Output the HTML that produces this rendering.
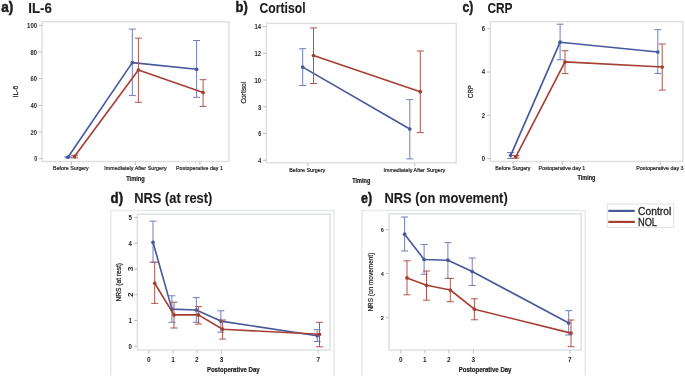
<!DOCTYPE html>
<html><head><meta charset="utf-8"><style>
html,body{margin:0;padding:0;background:#fff;width:685px;height:377px;overflow:hidden}
svg{display:block;font-family:"Liberation Sans", sans-serif;filter:blur(0.35px)}
</style></head><body>
<svg width="685" height="377" viewBox="0 0 685 377">
<text x="1.2" y="12.3" font-size="14.5" font-weight="bold" fill="#1e1e1e" stroke="#1e1e1e" stroke-width="0.5" textLength="12.10" lengthAdjust="spacingAndGlyphs">a)</text>
<text x="28.3" y="12.7" font-size="14.2" font-weight="bold" fill="#1e1e1e" stroke="#1e1e1e" stroke-width="0.12" textLength="23.50" lengthAdjust="spacingAndGlyphs">IL-6</text>
<rect x="42.0" y="21.8" width="186.9" height="139.7" fill="none" stroke="#dcdee0" stroke-width="1.4"/>
<line x1="38.5" y1="158.7" x2="42.0" y2="158.7" stroke="#c0c0c0" stroke-width="1"/>
<line x1="38.5" y1="132.02" x2="42.0" y2="132.02" stroke="#c0c0c0" stroke-width="1"/>
<line x1="38.5" y1="105.34" x2="42.0" y2="105.34" stroke="#c0c0c0" stroke-width="1"/>
<line x1="38.5" y1="78.66" x2="42.0" y2="78.66" stroke="#c0c0c0" stroke-width="1"/>
<line x1="38.5" y1="51.98" x2="42.0" y2="51.98" stroke="#c0c0c0" stroke-width="1"/>
<line x1="38.5" y1="25.3" x2="42.0" y2="25.3" stroke="#c0c0c0" stroke-width="1"/>
<text x="34.15" y="161.45" font-size="7.6" font-weight="bold" fill="#1e1e1e" textLength="2.95" lengthAdjust="spacingAndGlyphs">0</text>
<text x="30.599999999999998" y="134.77" font-size="7.6" font-weight="bold" fill="#1e1e1e" textLength="6.50" lengthAdjust="spacingAndGlyphs">20</text>
<text x="30.599999999999998" y="108.09" font-size="7.6" font-weight="bold" fill="#1e1e1e" textLength="6.50" lengthAdjust="spacingAndGlyphs">40</text>
<text x="30.599999999999998" y="81.41" font-size="7.6" font-weight="bold" fill="#1e1e1e" textLength="6.50" lengthAdjust="spacingAndGlyphs">60</text>
<text x="30.599999999999998" y="54.73" font-size="7.6" font-weight="bold" fill="#1e1e1e" textLength="6.50" lengthAdjust="spacingAndGlyphs">80</text>
<text x="27.05" y="28.05" font-size="7.6" font-weight="bold" fill="#1e1e1e" textLength="10.05" lengthAdjust="spacingAndGlyphs">100</text>
<line x1="71.5" y1="161.5" x2="71.5" y2="165.0" stroke="#c0c0c0" stroke-width="1"/>
<line x1="135.4" y1="161.5" x2="135.4" y2="165.0" stroke="#c0c0c0" stroke-width="1"/>
<line x1="199.9" y1="161.5" x2="199.9" y2="165.0" stroke="#c0c0c0" stroke-width="1"/>
<text x="53.099999999999994" y="170.3" font-size="5.3" font-weight="normal" fill="#1e1e1e" stroke="#1e1e1e" stroke-width="0.2" textLength="35.60" lengthAdjust="spacing">Before Surgery</text>
<text x="104.2" y="170.2" font-size="5.3" font-weight="normal" fill="#1e1e1e" stroke="#1e1e1e" stroke-width="0.2" textLength="62.40" lengthAdjust="spacing">Immediately After Surgery</text>
<text x="176.0" y="170.4" font-size="5.3" font-weight="normal" fill="#1e1e1e" stroke="#1e1e1e" stroke-width="0.2" textLength="46.90" lengthAdjust="spacing">Postoperative day 1</text>
<text x="126.2" y="180.7" font-size="6.8" font-weight="bold" fill="#1e1e1e" stroke="#1e1e1e" stroke-width="0.22" textLength="18.50" lengthAdjust="spacingAndGlyphs">Timing</text>
<text x="15.8" y="91.6" font-size="7.4" font-weight="normal" fill="#1e1e1e" stroke="#1e1e1e" stroke-width="0.25" text-anchor="middle" dominant-baseline="central" textLength="11.80" lengthAdjust="spacingAndGlyphs" transform="rotate(-90 15.8 91.6)">IL-6</text>
<line x1="68.0" y1="156.7" x2="68.0" y2="157.7" stroke="#6f7fba" stroke-width="1"/>
<line x1="64.5" y1="156.7" x2="71.5" y2="156.7" stroke="#6f7fba" stroke-width="1"/>
<line x1="64.5" y1="157.7" x2="71.5" y2="157.7" stroke="#6f7fba" stroke-width="1"/>
<line x1="132.3" y1="29.1" x2="132.3" y2="95.6" stroke="#6f7fba" stroke-width="1"/>
<line x1="128.8" y1="29.1" x2="135.8" y2="29.1" stroke="#6f7fba" stroke-width="1"/>
<line x1="128.8" y1="95.6" x2="135.8" y2="95.6" stroke="#6f7fba" stroke-width="1"/>
<line x1="196.6" y1="40.5" x2="196.6" y2="97.3" stroke="#6f7fba" stroke-width="1"/>
<line x1="193.1" y1="40.5" x2="200.1" y2="40.5" stroke="#6f7fba" stroke-width="1"/>
<line x1="193.1" y1="97.3" x2="200.1" y2="97.3" stroke="#6f7fba" stroke-width="1"/>
<path d="M68.0,157.2 L132.3,62.6 L196.6,69.3" fill="none" stroke="#47589c" stroke-width="1.65" stroke-linejoin="round"/>
<circle cx="68.0" cy="157.2" r="1.85" fill="#47589c"/>
<circle cx="132.3" cy="62.6" r="1.85" fill="#47589c"/>
<circle cx="196.6" cy="69.3" r="1.85" fill="#47589c"/>
<line x1="74.5" y1="155.3" x2="74.5" y2="157.9" stroke="#b0544a" stroke-width="1"/>
<line x1="71.0" y1="155.3" x2="78.0" y2="155.3" stroke="#b0544a" stroke-width="1"/>
<line x1="71.0" y1="157.9" x2="78.0" y2="157.9" stroke="#b0544a" stroke-width="1"/>
<line x1="138.4" y1="38.2" x2="138.4" y2="102.3" stroke="#b0544a" stroke-width="1"/>
<line x1="134.9" y1="38.2" x2="141.9" y2="38.2" stroke="#b0544a" stroke-width="1"/>
<line x1="134.9" y1="102.3" x2="141.9" y2="102.3" stroke="#b0544a" stroke-width="1"/>
<line x1="203.1" y1="79.7" x2="203.1" y2="106.4" stroke="#b0544a" stroke-width="1"/>
<line x1="199.6" y1="79.7" x2="206.6" y2="79.7" stroke="#b0544a" stroke-width="1"/>
<line x1="199.6" y1="106.4" x2="206.6" y2="106.4" stroke="#b0544a" stroke-width="1"/>
<path d="M74.5,156.6 L138.4,70 L203.1,92.5" fill="none" stroke="#a63f33" stroke-width="1.65" stroke-linejoin="round"/>
<circle cx="74.5" cy="156.6" r="1.85" fill="#a63f33"/>
<circle cx="138.4" cy="70" r="1.85" fill="#a63f33"/>
<circle cx="203.1" cy="92.5" r="1.85" fill="#a63f33"/>
<text x="235.60000000000002" y="11.7" font-size="14.5" font-weight="bold" fill="#1e1e1e" stroke="#1e1e1e" stroke-width="0.5" textLength="12.20" lengthAdjust="spacingAndGlyphs">b)</text>
<text x="259.5" y="12.6" font-size="14.2" font-weight="bold" fill="#1e1e1e" stroke="#1e1e1e" stroke-width="0.12" textLength="46.10" lengthAdjust="spacingAndGlyphs">Cortisol</text>
<rect x="266.4" y="23.4" width="189.8" height="139.4" fill="none" stroke="#dcdee0" stroke-width="1.4"/>
<line x1="262.9" y1="160.3" x2="266.4" y2="160.3" stroke="#c0c0c0" stroke-width="1"/>
<line x1="262.9" y1="133.56" x2="266.4" y2="133.56" stroke="#c0c0c0" stroke-width="1"/>
<line x1="262.9" y1="106.82" x2="266.4" y2="106.82" stroke="#c0c0c0" stroke-width="1"/>
<line x1="262.9" y1="80.08" x2="266.4" y2="80.08" stroke="#c0c0c0" stroke-width="1"/>
<line x1="262.9" y1="53.34" x2="266.4" y2="53.34" stroke="#c0c0c0" stroke-width="1"/>
<line x1="262.9" y1="26.6" x2="266.4" y2="26.6" stroke="#c0c0c0" stroke-width="1"/>
<text x="258.15" y="163.0" font-size="6.4" font-weight="bold" fill="#1e1e1e" textLength="2.95" lengthAdjust="spacingAndGlyphs">4</text>
<text x="258.15" y="136.26" font-size="6.4" font-weight="bold" fill="#1e1e1e" textLength="2.95" lengthAdjust="spacingAndGlyphs">6</text>
<text x="258.15" y="109.52" font-size="6.4" font-weight="bold" fill="#1e1e1e" textLength="2.95" lengthAdjust="spacingAndGlyphs">8</text>
<text x="254.6" y="82.78" font-size="6.4" font-weight="bold" fill="#1e1e1e" textLength="6.50" lengthAdjust="spacingAndGlyphs">10</text>
<text x="254.6" y="56.040000000000006" font-size="6.4" font-weight="bold" fill="#1e1e1e" textLength="6.50" lengthAdjust="spacingAndGlyphs">12</text>
<text x="254.6" y="29.3" font-size="6.4" font-weight="bold" fill="#1e1e1e" textLength="6.50" lengthAdjust="spacingAndGlyphs">14</text>
<line x1="307.8" y1="162.8" x2="307.8" y2="166.3" stroke="#c0c0c0" stroke-width="1"/>
<line x1="414.7" y1="162.8" x2="414.7" y2="166.3" stroke="#c0c0c0" stroke-width="1"/>
<text x="289.2" y="172" font-size="5.3" font-weight="normal" fill="#1e1e1e" stroke="#1e1e1e" stroke-width="0.2" textLength="36.00" lengthAdjust="spacing">Before Surgery</text>
<text x="383.5" y="172" font-size="5.3" font-weight="normal" fill="#1e1e1e" stroke="#1e1e1e" stroke-width="0.2" textLength="61.60" lengthAdjust="spacing">Immediately After Surgery</text>
<text x="352.3" y="182.6" font-size="6.8" font-weight="bold" fill="#1e1e1e" stroke="#1e1e1e" stroke-width="0.22" textLength="18.00" lengthAdjust="spacingAndGlyphs">Timing</text>
<text x="243.4" y="92.75" font-size="6.8" font-weight="normal" fill="#1e1e1e" stroke="#1e1e1e" stroke-width="0.2" text-anchor="middle" dominant-baseline="central" textLength="21.70" lengthAdjust="spacingAndGlyphs" transform="rotate(-90 243.4 92.75)">Cortisol</text>
<line x1="302.7" y1="48.7" x2="302.7" y2="85.5" stroke="#6f7fba" stroke-width="1"/>
<line x1="299.2" y1="48.7" x2="306.2" y2="48.7" stroke="#6f7fba" stroke-width="1"/>
<line x1="299.2" y1="85.5" x2="306.2" y2="85.5" stroke="#6f7fba" stroke-width="1"/>
<line x1="409.8" y1="99.6" x2="409.8" y2="158.9" stroke="#6f7fba" stroke-width="1"/>
<line x1="406.3" y1="99.6" x2="413.3" y2="99.6" stroke="#6f7fba" stroke-width="1"/>
<line x1="406.3" y1="158.9" x2="413.3" y2="158.9" stroke="#6f7fba" stroke-width="1"/>
<path d="M302.7,67.1 L409.8,129" fill="none" stroke="#47589c" stroke-width="1.65" stroke-linejoin="round"/>
<circle cx="302.7" cy="67.1" r="1.85" fill="#47589c"/>
<circle cx="409.8" cy="129" r="1.85" fill="#47589c"/>
<line x1="313.5" y1="27.9" x2="313.5" y2="83.5" stroke="#b0544a" stroke-width="1"/>
<line x1="310.0" y1="27.9" x2="317.0" y2="27.9" stroke="#b0544a" stroke-width="1"/>
<line x1="310.0" y1="83.5" x2="317.0" y2="83.5" stroke="#b0544a" stroke-width="1"/>
<line x1="420.3" y1="51" x2="420.3" y2="132.6" stroke="#b0544a" stroke-width="1"/>
<line x1="416.8" y1="51" x2="423.8" y2="51" stroke="#b0544a" stroke-width="1"/>
<line x1="416.8" y1="132.6" x2="423.8" y2="132.6" stroke="#b0544a" stroke-width="1"/>
<path d="M313.5,55.5 L420.3,91.7" fill="none" stroke="#a63f33" stroke-width="1.65" stroke-linejoin="round"/>
<circle cx="313.5" cy="55.5" r="1.85" fill="#a63f33"/>
<circle cx="420.3" cy="91.7" r="1.85" fill="#a63f33"/>
<text x="462.5" y="11.7" font-size="14.5" font-weight="bold" fill="#1e1e1e" stroke="#1e1e1e" stroke-width="0.5" textLength="10.70" lengthAdjust="spacingAndGlyphs">c)</text>
<text x="487.40000000000003" y="12.6" font-size="14.2" font-weight="bold" fill="#1e1e1e" stroke="#1e1e1e" stroke-width="0.12" textLength="25.10" lengthAdjust="spacingAndGlyphs">CRP</text>
<rect x="490.2" y="21.6" width="192.7" height="139.9" fill="none" stroke="#dcdee0" stroke-width="1.4"/>
<line x1="486.7" y1="158.6" x2="490.2" y2="158.6" stroke="#c0c0c0" stroke-width="1"/>
<line x1="486.7" y1="115.32" x2="490.2" y2="115.32" stroke="#c0c0c0" stroke-width="1"/>
<line x1="486.7" y1="72.04" x2="490.2" y2="72.04" stroke="#c0c0c0" stroke-width="1"/>
<line x1="486.7" y1="28.76" x2="490.2" y2="28.76" stroke="#c0c0c0" stroke-width="1"/>
<text x="481.8" y="160.9" font-size="6.4" font-weight="bold" fill="#1e1e1e" textLength="3.30" lengthAdjust="spacingAndGlyphs">0</text>
<text x="481.8" y="117.61999999999999" font-size="6.4" font-weight="bold" fill="#1e1e1e" textLength="3.30" lengthAdjust="spacingAndGlyphs">2</text>
<text x="481.8" y="74.34" font-size="6.4" font-weight="bold" fill="#1e1e1e" textLength="3.30" lengthAdjust="spacingAndGlyphs">4</text>
<text x="481.8" y="31.060000000000002" font-size="6.4" font-weight="bold" fill="#1e1e1e" textLength="3.30" lengthAdjust="spacingAndGlyphs">6</text>
<line x1="513.2" y1="161.5" x2="513.2" y2="165.0" stroke="#c0c0c0" stroke-width="1"/>
<line x1="562.3" y1="161.5" x2="562.3" y2="165.0" stroke="#c0c0c0" stroke-width="1"/>
<line x1="660.1" y1="161.5" x2="660.1" y2="165.0" stroke="#c0c0c0" stroke-width="1"/>
<text x="495.3" y="170.4" font-size="5.3" font-weight="normal" fill="#1e1e1e" stroke="#1e1e1e" stroke-width="0.2" textLength="35.20" lengthAdjust="spacing">Before Surgery</text>
<text x="538.4" y="170.4" font-size="5.3" font-weight="normal" fill="#1e1e1e" stroke="#1e1e1e" stroke-width="0.2" textLength="46.90" lengthAdjust="spacing">Postoperative day 1</text>
<text x="636.3" y="170.4" font-size="5.3" font-weight="normal" fill="#1e1e1e" stroke="#1e1e1e" stroke-width="0.2" textLength="47.20" lengthAdjust="spacing">Postoperative day 3</text>
<text x="577.5999999999999" y="180.3" font-size="6.8" font-weight="bold" fill="#1e1e1e" stroke="#1e1e1e" stroke-width="0.22" textLength="17.80" lengthAdjust="spacingAndGlyphs">Timing</text>
<text x="471" y="91.55000000000001" font-size="6.8" font-weight="normal" fill="#1e1e1e" stroke="#1e1e1e" stroke-width="0.25" text-anchor="middle" dominant-baseline="central" textLength="12.70" lengthAdjust="spacingAndGlyphs" transform="rotate(-90 471 91.55000000000001)">CRP</text>
<line x1="510.7" y1="152.5" x2="510.7" y2="158.5" stroke="#6f7fba" stroke-width="1"/>
<line x1="507.2" y1="152.5" x2="514.2" y2="152.5" stroke="#6f7fba" stroke-width="1"/>
<line x1="507.2" y1="158.5" x2="514.2" y2="158.5" stroke="#6f7fba" stroke-width="1"/>
<line x1="560.1" y1="24.2" x2="560.1" y2="59.8" stroke="#6f7fba" stroke-width="1"/>
<line x1="556.6" y1="24.2" x2="563.6" y2="24.2" stroke="#6f7fba" stroke-width="1"/>
<line x1="556.6" y1="59.8" x2="563.6" y2="59.8" stroke="#6f7fba" stroke-width="1"/>
<line x1="657.8" y1="29.7" x2="657.8" y2="73.4" stroke="#6f7fba" stroke-width="1"/>
<line x1="654.3" y1="29.7" x2="661.3" y2="29.7" stroke="#6f7fba" stroke-width="1"/>
<line x1="654.3" y1="73.4" x2="661.3" y2="73.4" stroke="#6f7fba" stroke-width="1"/>
<path d="M510.7,155.3 L560.1,42.2 L657.8,52" fill="none" stroke="#47589c" stroke-width="1.65" stroke-linejoin="round"/>
<circle cx="510.7" cy="155.3" r="1.85" fill="#47589c"/>
<circle cx="560.1" cy="42.2" r="1.85" fill="#47589c"/>
<circle cx="657.8" cy="52" r="1.85" fill="#47589c"/>
<line x1="515.8" y1="155.5" x2="515.8" y2="158.1" stroke="#b0544a" stroke-width="1"/>
<line x1="512.3" y1="155.5" x2="519.3" y2="155.5" stroke="#b0544a" stroke-width="1"/>
<line x1="512.3" y1="158.1" x2="519.3" y2="158.1" stroke="#b0544a" stroke-width="1"/>
<line x1="565" y1="50.7" x2="565" y2="73.6" stroke="#b0544a" stroke-width="1"/>
<line x1="561.5" y1="50.7" x2="568.5" y2="50.7" stroke="#b0544a" stroke-width="1"/>
<line x1="561.5" y1="73.6" x2="568.5" y2="73.6" stroke="#b0544a" stroke-width="1"/>
<line x1="662.2" y1="44" x2="662.2" y2="90.1" stroke="#b0544a" stroke-width="1"/>
<line x1="658.7" y1="44" x2="665.7" y2="44" stroke="#b0544a" stroke-width="1"/>
<line x1="658.7" y1="90.1" x2="665.7" y2="90.1" stroke="#b0544a" stroke-width="1"/>
<path d="M515.8,156.8 L565,61.9 L662.2,67" fill="none" stroke="#a63f33" stroke-width="1.65" stroke-linejoin="round"/>
<circle cx="515.8" cy="156.8" r="1.85" fill="#a63f33"/>
<circle cx="565" cy="61.9" r="1.85" fill="#a63f33"/>
<circle cx="662.2" cy="67" r="1.85" fill="#a63f33"/>
<text x="110.6" y="203.4" font-size="14.5" font-weight="bold" fill="#1e1e1e" stroke="#1e1e1e" stroke-width="0.5" textLength="12.50" lengthAdjust="spacingAndGlyphs">d)</text>
<text x="134.20000000000002" y="203.4" font-size="14.2" font-weight="bold" fill="#1e1e1e" stroke="#1e1e1e" stroke-width="0.12" textLength="78.20" lengthAdjust="spacingAndGlyphs">NRS (at rest)</text>
<path d="M110.7,375.5 V210.5 H333.9 V375.5" fill="none" stroke="#e8e9ea" stroke-width="1.5"/>
<rect x="137.4" y="214.2" width="192.6" height="135.8" fill="none" stroke="#dcdee0" stroke-width="1.4"/>
<line x1="133.9" y1="346.2" x2="137.4" y2="346.2" stroke="#c0c0c0" stroke-width="1"/>
<line x1="133.9" y1="320.46" x2="137.4" y2="320.46" stroke="#c0c0c0" stroke-width="1"/>
<line x1="133.9" y1="294.72" x2="137.4" y2="294.72" stroke="#c0c0c0" stroke-width="1"/>
<line x1="133.9" y1="268.98" x2="137.4" y2="268.98" stroke="#c0c0c0" stroke-width="1"/>
<line x1="133.9" y1="243.24" x2="137.4" y2="243.24" stroke="#c0c0c0" stroke-width="1"/>
<line x1="133.9" y1="217.5" x2="137.4" y2="217.5" stroke="#c0c0c0" stroke-width="1"/>
<text x="128.60000000000002" y="348.55" font-size="6.4" font-weight="bold" fill="#1e1e1e" textLength="3.40" lengthAdjust="spacingAndGlyphs">0</text>
<text x="128.60000000000002" y="322.81" font-size="6.4" font-weight="bold" fill="#1e1e1e" textLength="3.40" lengthAdjust="spacingAndGlyphs">1</text>
<text x="130.4" y="294.72" font-size="6.4" font-weight="bold" fill="#1e1e1e" text-anchor="middle" dominant-baseline="central" textLength="4.60" lengthAdjust="spacingAndGlyphs" transform="rotate(-90 130.4 294.72)">2</text>
<text x="130.4" y="268.98" font-size="6.4" font-weight="bold" fill="#1e1e1e" text-anchor="middle" dominant-baseline="central" textLength="4.60" lengthAdjust="spacingAndGlyphs" transform="rotate(-90 130.4 268.98)">3</text>
<text x="128.60000000000002" y="245.59" font-size="6.4" font-weight="bold" fill="#1e1e1e" textLength="3.40" lengthAdjust="spacingAndGlyphs">4</text>
<text x="128.60000000000002" y="219.85" font-size="6.4" font-weight="bold" fill="#1e1e1e" textLength="3.40" lengthAdjust="spacingAndGlyphs">5</text>
<line x1="148.9" y1="350" x2="148.9" y2="353.5" stroke="#c0c0c0" stroke-width="1"/>
<line x1="173.1" y1="350" x2="173.1" y2="353.5" stroke="#c0c0c0" stroke-width="1"/>
<line x1="196.9" y1="350" x2="196.9" y2="353.5" stroke="#c0c0c0" stroke-width="1"/>
<line x1="221.6" y1="350" x2="221.6" y2="353.5" stroke="#c0c0c0" stroke-width="1"/>
<line x1="318.2" y1="350" x2="318.2" y2="353.5" stroke="#c0c0c0" stroke-width="1"/>
<text x="147.10000000000002" y="361.5" font-size="6.8" font-weight="bold" fill="#1e1e1e" textLength="3.60" lengthAdjust="spacingAndGlyphs">0</text>
<text x="171.3" y="361.5" font-size="6.8" font-weight="bold" fill="#1e1e1e" textLength="3.60" lengthAdjust="spacingAndGlyphs">1</text>
<text x="195.10000000000002" y="361.5" font-size="6.8" font-weight="bold" fill="#1e1e1e" textLength="3.60" lengthAdjust="spacingAndGlyphs">2</text>
<text x="219.8" y="361.5" font-size="6.8" font-weight="bold" fill="#1e1e1e" textLength="3.60" lengthAdjust="spacingAndGlyphs">3</text>
<text x="316.4" y="361.5" font-size="6.8" font-weight="bold" fill="#1e1e1e" textLength="3.60" lengthAdjust="spacingAndGlyphs">7</text>
<text x="206.9" y="372.2" font-size="6.8" font-weight="bold" fill="#1e1e1e" stroke="#1e1e1e" stroke-width="0.22" textLength="52.80" lengthAdjust="spacingAndGlyphs">Postoperative Day</text>
<text x="118.1" y="282.2" font-size="6.8" font-weight="normal" fill="#1e1e1e" stroke="#1e1e1e" stroke-width="0.25" text-anchor="middle" dominant-baseline="central" textLength="38.40" lengthAdjust="spacingAndGlyphs" transform="rotate(-90 118.1 282.2)">NRS (at rest)</text>
<line x1="153" y1="221.2" x2="153" y2="262.2" stroke="#6f7fba" stroke-width="1"/>
<line x1="149.5" y1="221.2" x2="156.5" y2="221.2" stroke="#6f7fba" stroke-width="1"/>
<line x1="149.5" y1="262.2" x2="156.5" y2="262.2" stroke="#6f7fba" stroke-width="1"/>
<line x1="171.9" y1="295.8" x2="171.9" y2="322.3" stroke="#6f7fba" stroke-width="1"/>
<line x1="168.4" y1="295.8" x2="175.4" y2="295.8" stroke="#6f7fba" stroke-width="1"/>
<line x1="168.4" y1="322.3" x2="175.4" y2="322.3" stroke="#6f7fba" stroke-width="1"/>
<line x1="196.3" y1="297.6" x2="196.3" y2="322.3" stroke="#6f7fba" stroke-width="1"/>
<line x1="192.8" y1="297.6" x2="199.8" y2="297.6" stroke="#6f7fba" stroke-width="1"/>
<line x1="192.8" y1="322.3" x2="199.8" y2="322.3" stroke="#6f7fba" stroke-width="1"/>
<line x1="220.8" y1="310.8" x2="220.8" y2="332.2" stroke="#6f7fba" stroke-width="1"/>
<line x1="217.3" y1="310.8" x2="224.3" y2="310.8" stroke="#6f7fba" stroke-width="1"/>
<line x1="217.3" y1="332.2" x2="224.3" y2="332.2" stroke="#6f7fba" stroke-width="1"/>
<line x1="317.2" y1="329.7" x2="317.2" y2="341.5" stroke="#6f7fba" stroke-width="1"/>
<line x1="313.7" y1="329.7" x2="320.7" y2="329.7" stroke="#6f7fba" stroke-width="1"/>
<line x1="313.7" y1="341.5" x2="320.7" y2="341.5" stroke="#6f7fba" stroke-width="1"/>
<path d="M153,242.3 L171.9,309.1 L196.3,310 L220.8,321.1 L317.2,335.7" fill="none" stroke="#47589c" stroke-width="1.65" stroke-linejoin="round"/>
<circle cx="153" cy="242.3" r="1.85" fill="#47589c"/>
<circle cx="171.9" cy="309.1" r="1.85" fill="#47589c"/>
<circle cx="196.3" cy="310" r="1.85" fill="#47589c"/>
<circle cx="220.8" cy="321.1" r="1.85" fill="#47589c"/>
<circle cx="317.2" cy="335.7" r="1.85" fill="#47589c"/>
<line x1="154.7" y1="262.2" x2="154.7" y2="303.4" stroke="#b0544a" stroke-width="1"/>
<line x1="151.2" y1="262.2" x2="158.2" y2="262.2" stroke="#b0544a" stroke-width="1"/>
<line x1="151.2" y1="303.4" x2="158.2" y2="303.4" stroke="#b0544a" stroke-width="1"/>
<line x1="174.0" y1="302.2" x2="174.0" y2="328" stroke="#b0544a" stroke-width="1"/>
<line x1="170.5" y1="302.2" x2="177.5" y2="302.2" stroke="#b0544a" stroke-width="1"/>
<line x1="170.5" y1="328" x2="177.5" y2="328" stroke="#b0544a" stroke-width="1"/>
<line x1="198.4" y1="306.6" x2="198.4" y2="324.1" stroke="#b0544a" stroke-width="1"/>
<line x1="194.9" y1="306.6" x2="201.9" y2="306.6" stroke="#b0544a" stroke-width="1"/>
<line x1="194.9" y1="324.1" x2="201.9" y2="324.1" stroke="#b0544a" stroke-width="1"/>
<line x1="222.6" y1="320" x2="222.6" y2="339.1" stroke="#b0544a" stroke-width="1"/>
<line x1="219.1" y1="320" x2="226.1" y2="320" stroke="#b0544a" stroke-width="1"/>
<line x1="219.1" y1="339.1" x2="226.1" y2="339.1" stroke="#b0544a" stroke-width="1"/>
<line x1="319.5" y1="322.3" x2="319.5" y2="346.8" stroke="#b0544a" stroke-width="1"/>
<line x1="316.0" y1="322.3" x2="323.0" y2="322.3" stroke="#b0544a" stroke-width="1"/>
<line x1="316.0" y1="346.8" x2="323.0" y2="346.8" stroke="#b0544a" stroke-width="1"/>
<path d="M154.7,283.2 L174.0,314.9 L198.4,314.9 L222.6,329.2 L319.5,334.3" fill="none" stroke="#a63f33" stroke-width="1.65" stroke-linejoin="round"/>
<circle cx="154.7" cy="283.2" r="1.85" fill="#a63f33"/>
<circle cx="174.0" cy="314.9" r="1.85" fill="#a63f33"/>
<circle cx="198.4" cy="314.9" r="1.85" fill="#a63f33"/>
<circle cx="222.6" cy="329.2" r="1.85" fill="#a63f33"/>
<circle cx="319.5" cy="334.3" r="1.85" fill="#a63f33"/>
<text x="361.1" y="203.4" font-size="14.5" font-weight="bold" fill="#1e1e1e" stroke="#1e1e1e" stroke-width="0.5" textLength="11.10" lengthAdjust="spacingAndGlyphs">e)</text>
<text x="384.5" y="203.4" font-size="14.2" font-weight="bold" fill="#1e1e1e" stroke="#1e1e1e" stroke-width="0.12" textLength="123.20" lengthAdjust="spacingAndGlyphs">NRS (on movement)</text>
<path d="M362,375.5 V210.5 H585.3 V375.5" fill="none" stroke="#e8e9ea" stroke-width="1.5"/>
<rect x="389.0" y="213.8" width="192.20000000000005" height="136.2" fill="none" stroke="#dcdee0" stroke-width="1.4"/>
<line x1="385.5" y1="317.3" x2="389.0" y2="317.3" stroke="#c0c0c0" stroke-width="1"/>
<line x1="385.5" y1="273.44" x2="389.0" y2="273.44" stroke="#c0c0c0" stroke-width="1"/>
<line x1="385.5" y1="229.58" x2="389.0" y2="229.58" stroke="#c0c0c0" stroke-width="1"/>
<text x="380.8" y="319.55" font-size="6.0" font-weight="bold" fill="#1e1e1e" textLength="3.10" lengthAdjust="spacingAndGlyphs">2</text>
<text x="380.8" y="275.69" font-size="6.0" font-weight="bold" fill="#1e1e1e" textLength="3.10" lengthAdjust="spacingAndGlyphs">4</text>
<text x="380.8" y="231.83" font-size="6.0" font-weight="bold" fill="#1e1e1e" textLength="3.10" lengthAdjust="spacingAndGlyphs">6</text>
<line x1="400.8" y1="350" x2="400.8" y2="353.5" stroke="#c0c0c0" stroke-width="1"/>
<line x1="424.9" y1="350" x2="424.9" y2="353.5" stroke="#c0c0c0" stroke-width="1"/>
<line x1="448.8" y1="350" x2="448.8" y2="353.5" stroke="#c0c0c0" stroke-width="1"/>
<line x1="473.3" y1="350" x2="473.3" y2="353.5" stroke="#c0c0c0" stroke-width="1"/>
<line x1="569.9" y1="350" x2="569.9" y2="353.5" stroke="#c0c0c0" stroke-width="1"/>
<text x="399.0" y="361.7" font-size="6.8" font-weight="bold" fill="#1e1e1e" textLength="3.60" lengthAdjust="spacingAndGlyphs">0</text>
<text x="423.09999999999997" y="361.7" font-size="6.8" font-weight="bold" fill="#1e1e1e" textLength="3.60" lengthAdjust="spacingAndGlyphs">1</text>
<text x="447.0" y="361.7" font-size="6.8" font-weight="bold" fill="#1e1e1e" textLength="3.60" lengthAdjust="spacingAndGlyphs">2</text>
<text x="471.5" y="361.7" font-size="6.8" font-weight="bold" fill="#1e1e1e" textLength="3.60" lengthAdjust="spacingAndGlyphs">3</text>
<text x="568.0999999999999" y="361.7" font-size="6.8" font-weight="bold" fill="#1e1e1e" textLength="3.60" lengthAdjust="spacingAndGlyphs">7</text>
<text x="458.7" y="372.2" font-size="6.8" font-weight="bold" fill="#1e1e1e" stroke="#1e1e1e" stroke-width="0.22" textLength="52.80" lengthAdjust="spacingAndGlyphs">Postoperative Day</text>
<text x="370.1" y="282.15" font-size="6.8" font-weight="normal" fill="#1e1e1e" stroke="#1e1e1e" stroke-width="0.2" text-anchor="middle" dominant-baseline="central" textLength="58.90" lengthAdjust="spacingAndGlyphs" transform="rotate(-90 370.1 282.15)">NRS (on movement)</text>
<line x1="404.6" y1="217" x2="404.6" y2="251" stroke="#6f7fba" stroke-width="1"/>
<line x1="401.1" y1="217" x2="408.1" y2="217" stroke="#6f7fba" stroke-width="1"/>
<line x1="401.1" y1="251" x2="408.1" y2="251" stroke="#6f7fba" stroke-width="1"/>
<line x1="424.1" y1="244.5" x2="424.1" y2="274.2" stroke="#6f7fba" stroke-width="1"/>
<line x1="420.6" y1="244.5" x2="427.6" y2="244.5" stroke="#6f7fba" stroke-width="1"/>
<line x1="420.6" y1="274.2" x2="427.6" y2="274.2" stroke="#6f7fba" stroke-width="1"/>
<line x1="447.9" y1="242.6" x2="447.9" y2="278.4" stroke="#6f7fba" stroke-width="1"/>
<line x1="444.4" y1="242.6" x2="451.4" y2="242.6" stroke="#6f7fba" stroke-width="1"/>
<line x1="444.4" y1="278.4" x2="451.4" y2="278.4" stroke="#6f7fba" stroke-width="1"/>
<line x1="472.2" y1="258" x2="472.2" y2="285.5" stroke="#6f7fba" stroke-width="1"/>
<line x1="468.7" y1="258" x2="475.7" y2="258" stroke="#6f7fba" stroke-width="1"/>
<line x1="468.7" y1="285.5" x2="475.7" y2="285.5" stroke="#6f7fba" stroke-width="1"/>
<line x1="568.7" y1="310.7" x2="568.7" y2="335" stroke="#6f7fba" stroke-width="1"/>
<line x1="565.2" y1="310.7" x2="572.2" y2="310.7" stroke="#6f7fba" stroke-width="1"/>
<line x1="565.2" y1="335" x2="572.2" y2="335" stroke="#6f7fba" stroke-width="1"/>
<path d="M404.6,234.2 L424.1,259.5 L447.9,260.2 L472.2,271.5 L568.7,323" fill="none" stroke="#47589c" stroke-width="1.65" stroke-linejoin="round"/>
<circle cx="404.6" cy="234.2" r="1.85" fill="#47589c"/>
<circle cx="424.1" cy="259.5" r="1.85" fill="#47589c"/>
<circle cx="447.9" cy="260.2" r="1.85" fill="#47589c"/>
<circle cx="472.2" cy="271.5" r="1.85" fill="#47589c"/>
<circle cx="568.7" cy="323" r="1.85" fill="#47589c"/>
<line x1="407" y1="260.8" x2="407" y2="294.8" stroke="#b0544a" stroke-width="1"/>
<line x1="403.5" y1="260.8" x2="410.5" y2="260.8" stroke="#b0544a" stroke-width="1"/>
<line x1="403.5" y1="294.8" x2="410.5" y2="294.8" stroke="#b0544a" stroke-width="1"/>
<line x1="426.5" y1="271" x2="426.5" y2="300.2" stroke="#b0544a" stroke-width="1"/>
<line x1="423.0" y1="271" x2="430.0" y2="271" stroke="#b0544a" stroke-width="1"/>
<line x1="423.0" y1="300.2" x2="430.0" y2="300.2" stroke="#b0544a" stroke-width="1"/>
<line x1="450.3" y1="278.4" x2="450.3" y2="301.7" stroke="#b0544a" stroke-width="1"/>
<line x1="446.8" y1="278.4" x2="453.8" y2="278.4" stroke="#b0544a" stroke-width="1"/>
<line x1="446.8" y1="301.7" x2="453.8" y2="301.7" stroke="#b0544a" stroke-width="1"/>
<line x1="474.4" y1="298.8" x2="474.4" y2="319.8" stroke="#b0544a" stroke-width="1"/>
<line x1="470.9" y1="298.8" x2="477.9" y2="298.8" stroke="#b0544a" stroke-width="1"/>
<line x1="470.9" y1="319.8" x2="477.9" y2="319.8" stroke="#b0544a" stroke-width="1"/>
<line x1="571" y1="320" x2="571" y2="346.7" stroke="#b0544a" stroke-width="1"/>
<line x1="567.5" y1="320" x2="574.5" y2="320" stroke="#b0544a" stroke-width="1"/>
<line x1="567.5" y1="346.7" x2="574.5" y2="346.7" stroke="#b0544a" stroke-width="1"/>
<path d="M407,277.9 L426.5,285.3 L450.3,290 L474.4,309.2 L571,333.1" fill="none" stroke="#a63f33" stroke-width="1.65" stroke-linejoin="round"/>
<circle cx="407" cy="277.9" r="1.85" fill="#a63f33"/>
<circle cx="426.5" cy="285.3" r="1.85" fill="#a63f33"/>
<circle cx="450.3" cy="290" r="1.85" fill="#a63f33"/>
<circle cx="474.4" cy="309.2" r="1.85" fill="#a63f33"/>
<circle cx="571" cy="333.1" r="1.85" fill="#a63f33"/>
<rect x="607.3" y="204" width="66.30000000000007" height="23.5" fill="none" stroke="#e4e4e4" stroke-width="1.1"/>
<line x1="608.3" y1="210.9" x2="634.8" y2="210.9" stroke="#47589c" stroke-width="2.2"/>
<line x1="608.3" y1="221.9" x2="634.8" y2="221.9" stroke="#a63f33" stroke-width="2.2"/>
<text x="638.0" y="214.9" font-size="10.8" font-weight="normal" fill="#1e1e1e" stroke="#1e1e1e" stroke-width="0.3" textLength="33.20" lengthAdjust="spacingAndGlyphs">Control</text>
<text x="638.0" y="225.8" font-size="10.8" font-weight="normal" fill="#1e1e1e" stroke="#1e1e1e" stroke-width="0.3" textLength="19.00" lengthAdjust="spacingAndGlyphs">NOL</text>
</svg>
</body></html>
